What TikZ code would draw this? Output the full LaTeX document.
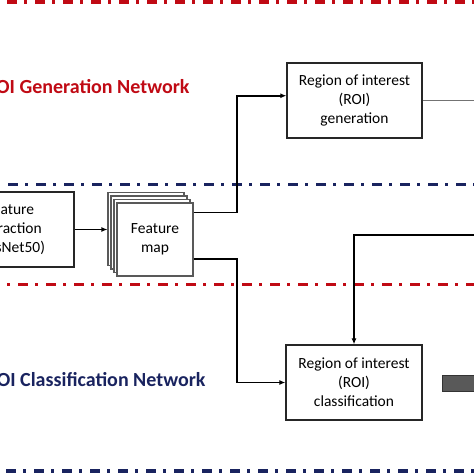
\documentclass[tikz,border=0pt]{standalone}
\usepackage{fontspec}
\setmainfont{Carlito}
\usetikzlibrary{arrows.meta}
\definecolor{netred}{RGB}{192,10,20}
\definecolor{netblue}{RGB}{25,35,95}

\begin{document}
\begin{tikzpicture}[x=1pt,y=-1pt,
   box/.style={draw=black!85,line width=1.3pt,fill=white,align=center,inner sep=0pt,
               font=\fontsize{15.5}{19.2}\selectfont},
   sheet/.style={draw=black!65,line width=1.1pt,fill=white,minimum width=76pt,minimum height=73pt,inner sep=0pt},
   flow/.style={draw=black,line width=1.6pt,-{Latex[length=6pt,width=5pt]}},
   sep/.style={line width=3pt,dash pattern=on 10pt off 7pt on 2.5pt off 8.5pt},
   title/.style={anchor=east,font=\fontsize{20}{22}\selectfont\bfseries}]
   \useasboundingbox (0,0) rectangle (474,474);
   \draw[sep,netred,line width=4pt,dash phase=21pt] (0,2) -- (474,2);
   \draw[sep,netblue,dash phase=20pt] (0,184) -- (474,184);
   \draw[sep,netred,dash phase=10pt] (0,284) -- (474,284);
   \draw[sep,netblue,line width=3.5pt,dash phase=22pt] (0,471) -- (474,471);
   \node[title,netred] (gentitle) at (193,87) {ROI Generation Network};
   \node[title,netblue] (clstitle) at (209,380) {ROI Classification Network};
   \node[box,minimum width=128pt,minimum height=75pt] (fext) at (10,229.5) {Feature\\extraction\\(ResNet50)};
   \node[sheet] (fmap3) at (146,229) {};
   \node[sheet] (fmap2) at (149,232.5) {};
   \node[sheet] (fmap1) at (152,236) {};
   \node[sheet,align=center,font=\fontsize{15.5}{19.2}\selectfont] (fmap) at (155,239.5) {Feature\\map};
   \node[box,minimum width=135pt,minimum height=75pt] (roigen) at (354.5,100.5) {Region of interest\\(ROI)\\generation};
   \node[box,minimum width=136pt,minimum height=75pt] (roicls) at (354,382.5) {Region of interest\\(ROI)\\classification};
   \node[fill=black!65,draw=black!80,line width=1pt,minimum width=40pt,minimum height=16pt,inner sep=0pt] (block) at (462,383) {};
   \coordinate (upsplit) at (237,160);
   \coordinate (downsplit) at (237,320);
   \coordinate (feedback) at (474,235);
   \coordinate (genout) at (474,100.5);
   \draw[flow] (fext.east) -- (fext.east -| fmap3.west);
   \draw[flow] (fmap.35) -| (upsplit) |- (roigen.176);
   \draw[flow] (fmap.-27) -| (downsplit) |- (roicls.west);
   \draw[flow] (feedback) -| (roicls.north);
   \draw[black!55,line width=1.8pt] (roigen.east) -- (genout);
\end{tikzpicture}
\end{document}
